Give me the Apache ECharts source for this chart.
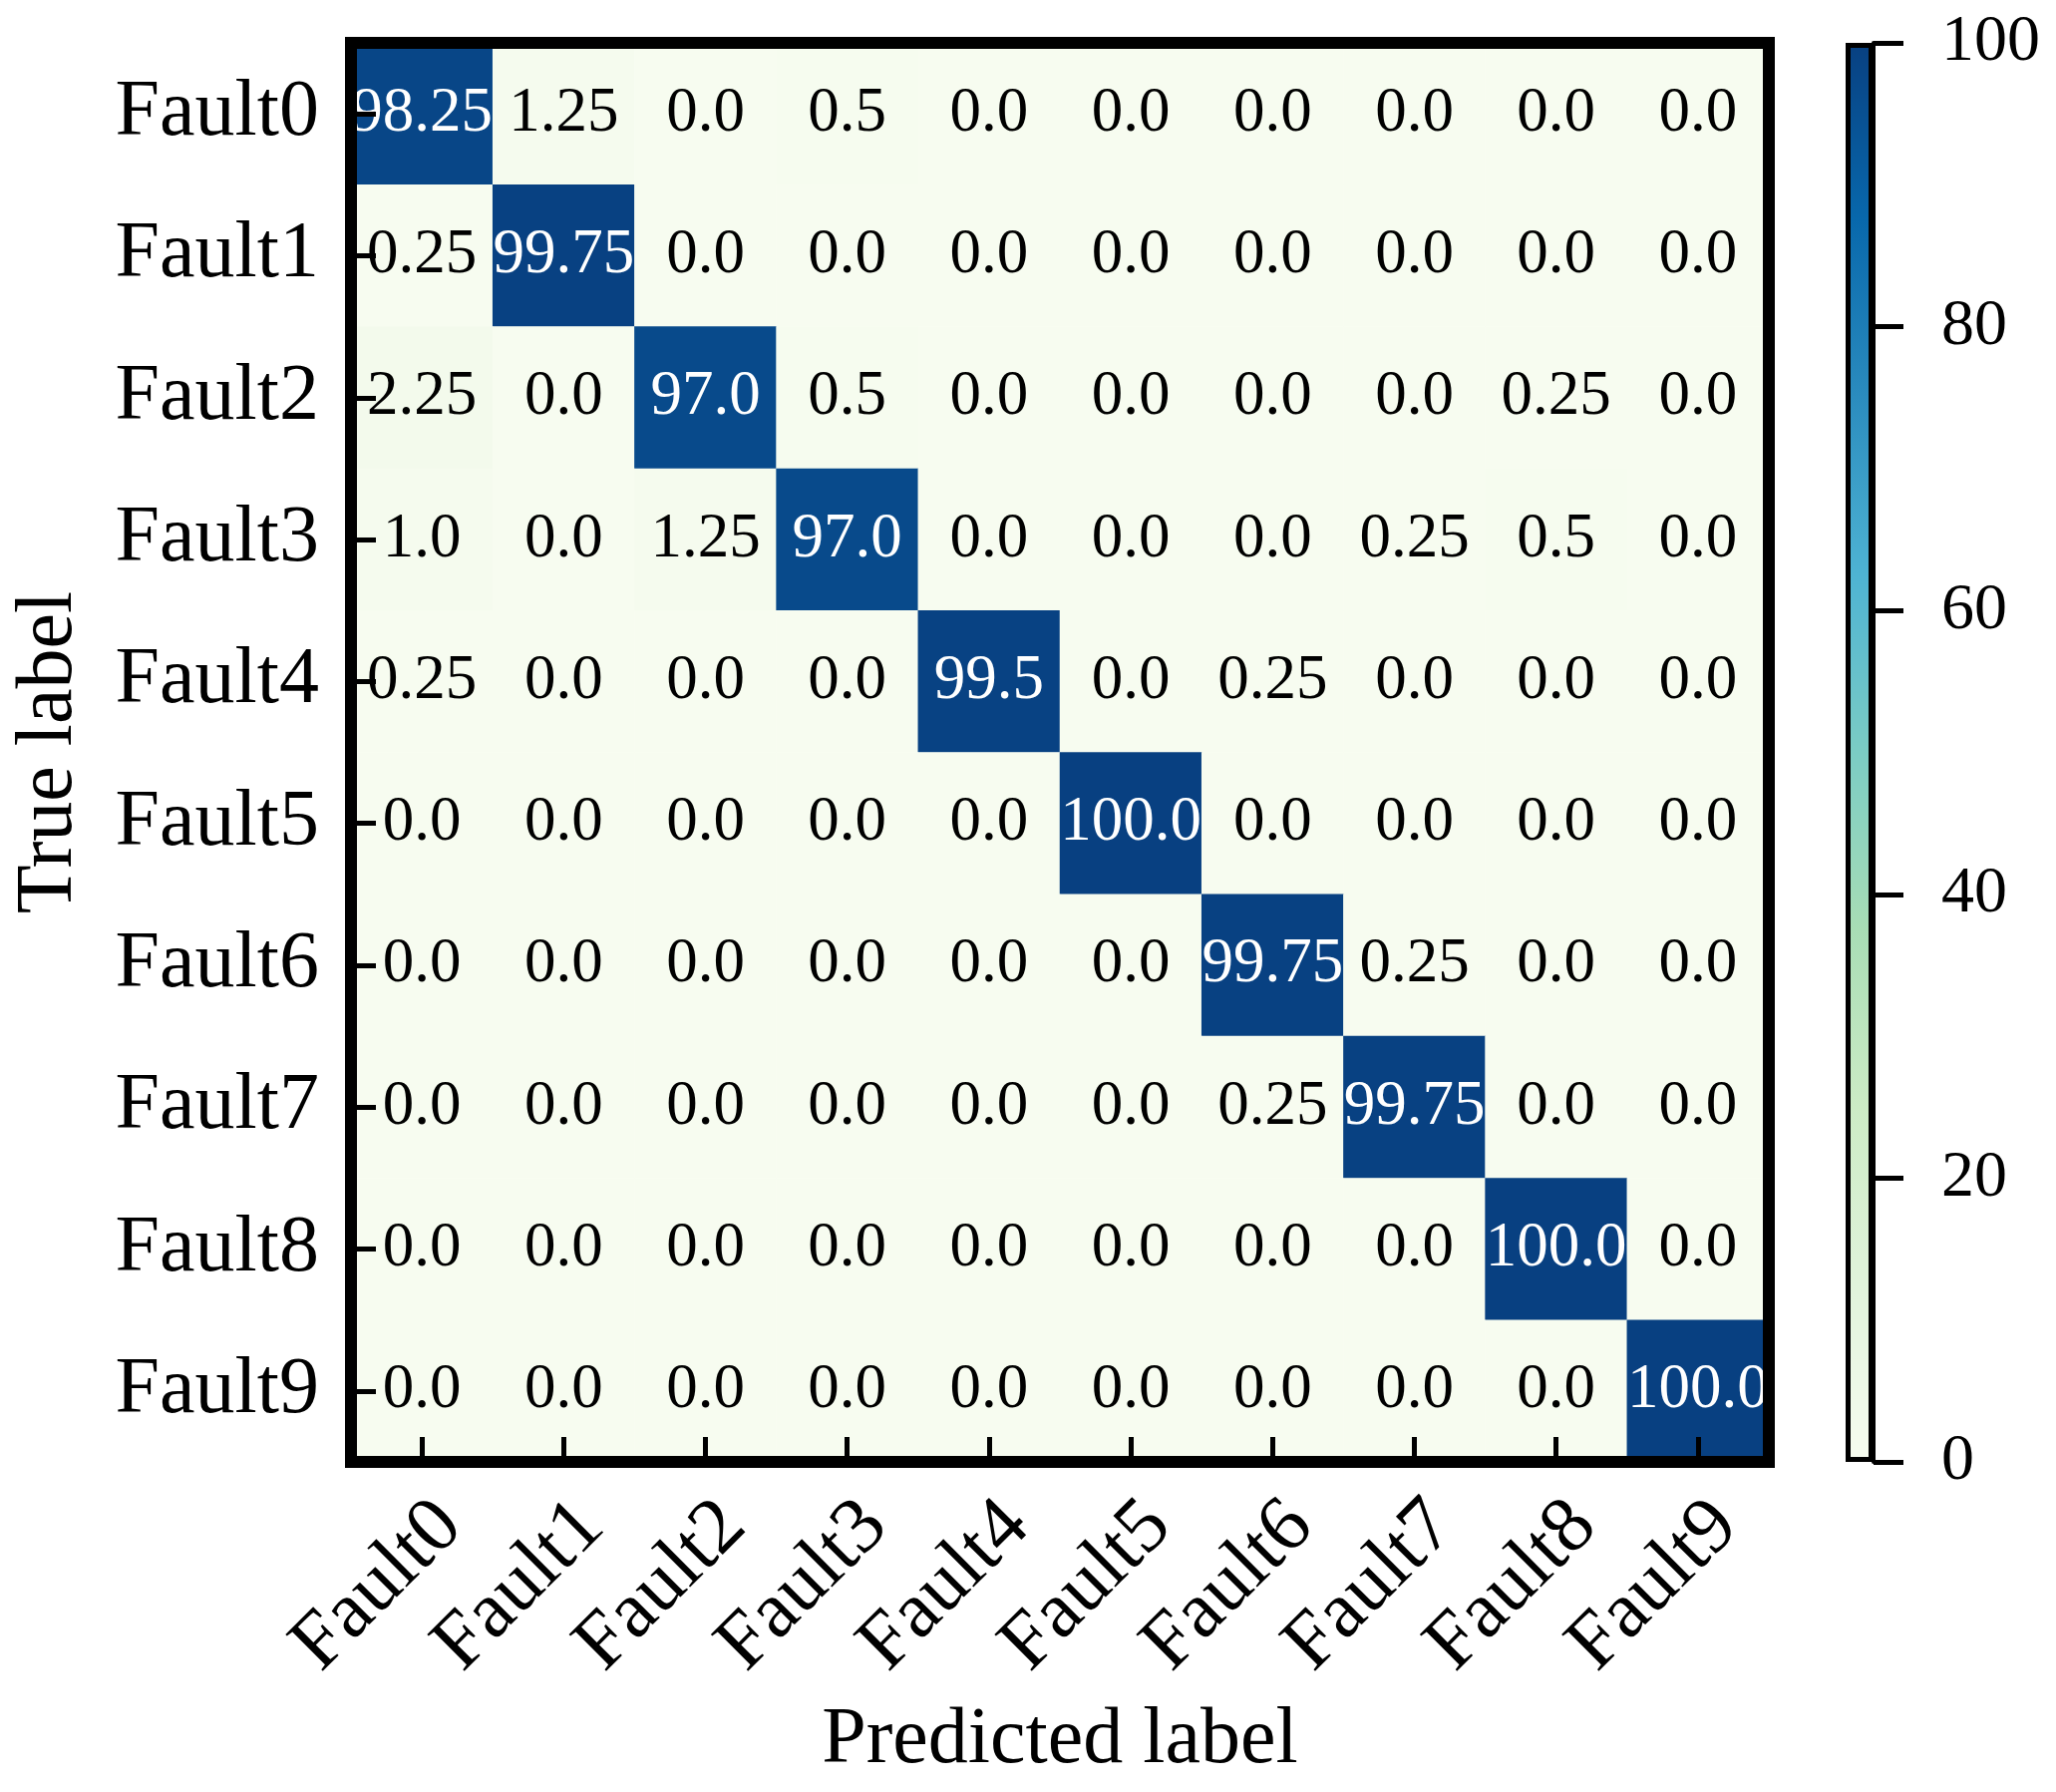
<!DOCTYPE html>
<html>
<head>
<meta charset="utf-8">
<script src="https://cdn.jsdelivr.net/npm/echarts@6/dist/echarts.min.js"></script>
<style>
html,body{margin:0;padding:0;background:#fff;}
#chart{width:2062px;height:1797px;}
</style>
</head>
<body>
<div id="chart"></div>
<script>
const categories = ['Fault0','Fault1','Fault2','Fault3','Fault4','Fault5','Fault6','Fault7','Fault8','Fault9'];
const row0 = [98.25, 1.25, 0.0, 0.5, 0.0, 0.0, 0.0, 0.0, 0.0, 0.0];
const row1 = [0.25, 99.75, 0.0, 0.0, 0.0, 0.0, 0.0, 0.0, 0.0, 0.0];
const row2 = [2.25, 0.0, 97.0, 0.5, 0.0, 0.0, 0.0, 0.0, 0.25, 0.0];
const row3 = [1.0, 0.0, 1.25, 97.0, 0.0, 0.0, 0.0, 0.25, 0.5, 0.0];
const row4 = [0.25, 0.0, 0.0, 0.0, 99.5, 0.0, 0.25, 0.0, 0.0, 0.0];
const row5 = [0.0, 0.0, 0.0, 0.0, 0.0, 100.0, 0.0, 0.0, 0.0, 0.0];
const row6 = [0.0, 0.0, 0.0, 0.0, 0.0, 0.0, 99.75, 0.25, 0.0, 0.0];
const row7 = [0.0, 0.0, 0.0, 0.0, 0.0, 0.0, 0.25, 99.75, 0.0, 0.0];
const row8 = [0.0, 0.0, 0.0, 0.0, 0.0, 0.0, 0.0, 0.0, 100.0, 0.0];
const row9 = [0.0, 0.0, 0.0, 0.0, 0.0, 0.0, 0.0, 0.0, 0.0, 100.0];
const colorbarTicks = [0, 20, 40, 60, 80, 100];
const colorbarMax = [100];

const matrix = [row0,row1,row2,row3,row4,row5,row6,row7,row8,row9];
const GnBu = ['#f7fcf0','#e0f3db','#ccebc5','#a8ddb5','#7bccc4','#4eb3d3','#2b8cbe','#0868ac','#084081'];
const FONT = 'Liberation Serif';

function fmt(v){ return Number.isInteger(Math.round(v*1000)/100) ? v.toFixed(1) : String(v); }

const heatData = [];
matrix.forEach((row, r) => {
  row.forEach((v, c) => {
    heatData.push({
      value: [c, r, v],
      label: { color: v > 50 ? '#ffffff' : '#000000' }
    });
  });
});

const chart = echarts.init(document.getElementById('chart'));
chart.setOption({
  backgroundColor: '#ffffff',
  animation: false,
  grid: [
    { left: 352, top: 43, width: 1422, height: 1423, show: true, borderColor: '#000', borderWidth: 12, z: 10, containLabel: false },
    { left: 1851, top: 43, width: 28, height: 1423, show: false }
  ],
  visualMap: {
    type: 'continuous', min: 0, max: 100, show: false, seriesIndex: 0,
    inRange: { color: GnBu }
  },
  xAxis: [
    {
      type: 'category', data: categories, gridIndex: 0, z: 10,
      name: 'Predicted label', nameLocation: 'middle', nameGap: 240,
      nameTextStyle: { fontFamily: FONT, fontSize: 80, color: '#000' },
      axisLine: { show: false },
      axisTick: { show: true, inside: true, alignWithLabel: true, length: 25, lineStyle: { color: '#000', width: 5 } },
      axisLabel: { rotate: 45, fontFamily: FONT, fontSize: 80, color: '#000', margin: 24, interval: 0, verticalAlign: 'top' },
      splitLine: { show: false }
    },
    {
      type: 'category', data: ['cb'], gridIndex: 1, show: false
    }
  ],
  yAxis: [
    {
      type: 'category', data: categories, gridIndex: 0, inverse: true, z: 10,
      name: 'True label', nameLocation: 'middle', nameGap: 262, nameRotate: 90,
      nameTextStyle: { fontFamily: FONT, fontSize: 80, color: '#000' },
      axisLine: { show: false },
      axisTick: { show: true, inside: true, alignWithLabel: true, length: 25, lineStyle: { color: '#000', width: 5 } },
      axisLabel: { fontFamily: FONT, fontSize: 80, color: '#000', margin: 32, interval: 0 },
      splitLine: { show: false }
    },
    {
      type: 'value', gridIndex: 1, position: 'right', min: 0, max: 100, interval: 20,
      axisLine: { show: true, lineStyle: { color: '#000', width: 4 } },
      axisTick: { show: true, inside: false, length: 30, lineStyle: { color: '#000', width: 5 } },
      axisLabel: { fontFamily: FONT, fontSize: 66, color: '#000', margin: 68,
        formatter: v => colorbarTicks.indexOf(v) >= 0 ? String(v) : '' },
      splitLine: { show: false }
    }
  ],
  series: [
    {
      type: 'heatmap', xAxisIndex: 0, yAxisIndex: 0, data: heatData,
      label: { show: true, fontFamily: FONT, fontSize: 63, formatter: p => fmt(p.value[2]) },
      itemStyle: { borderWidth: 0 },
      emphasis: { disabled: true }
    },
    {
      type: 'bar', xAxisIndex: 1, yAxisIndex: 1, data: colorbarMax, barWidth: '100%',
      itemStyle: {
        borderColor: '#000', borderWidth: 5,
        color: { type: 'linear', x: 0, y: 1, x2: 0, y2: 0,
          colorStops: GnBu.map((c, i) => ({ offset: i / (GnBu.length - 1), color: c })) }
      },
      emphasis: { disabled: true }
    }
  ]
});
</script>
</body>
</html>
